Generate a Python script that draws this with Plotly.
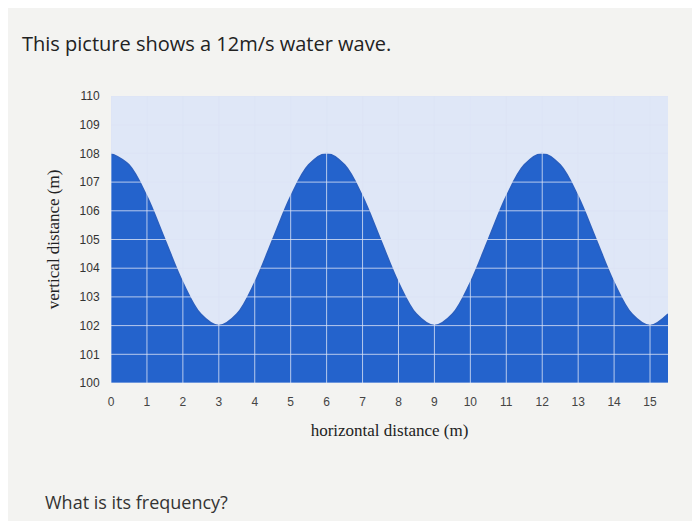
import plotly.graph_objects as go

# wave profile (0.5 m steps)
x_m = [0, 0.5, 1, 1.5, 2, 2.5, 3, 3.5, 4, 4.5, 5, 5.5, 6, 6.5, 7, 7.5, 8, 8.5,
       9, 9.5, 10, 10.5, 11, 11.5, 12, 12.5, 13, 13.5, 14, 14.5, 15, 15.5]
y_m = [108, 107.6, 106.5, 105, 103.5, 102.4, 102, 102.4, 103.5, 105, 106.5, 107.6,
       108, 107.6, 106.5, 105, 103.5, 102.4, 102, 102.4, 103.5, 105, 106.5, 107.6,
       108, 107.6, 106.5, 105, 103.5, 102.4, 102, 102.4]
x_ticks = list(range(0, 17))
y_ticks = list(range(100, 111))

fig = go.Figure()
fig.add_trace(go.Scatter(x=x_m, y=y_m, mode='lines', line=dict(color='#2a5fbf', width=1.5, shape='spline'),
                         fill='tozeroy', fillcolor='#2463cc', hoverinfo='skip'))

fig.update_xaxes(range=[0, 15.5], tickvals=x_ticks, showgrid=False,
                 title=dict(text='horizontal distance (m)', font=dict(family='Liberation Serif', size=17, color='#222')),
                 tickfont=dict(family='Liberation Sans', size=12, color='#444'), zeroline=False,
                 ticks='outside', ticklen=8, tickcolor='rgba(0,0,0,0)')
fig.update_yaxes(range=[100, 110], tickvals=y_ticks, showgrid=False,
                 title=dict(text='vertical distance (m)', font=dict(family='Liberation Serif', size=17, color='#222')),
                 tickfont=dict(family='Liberation Sans', size=12, color='#333'), zeroline=False,
                 ticks='outside', ticklen=8, tickcolor='rgba(0,0,0,0)')

# grid drawn over the fill, like the original
grid = [dict(type='line', xref='x', yref='paper', x0=v, x1=v, y0=0, y1=1, layer='above',
             line=dict(color='rgba(220,228,245,0.8)', width=1)) for v in x_ticks if v <= 15]
grid += [dict(type='line', xref='paper', yref='y', x0=0, x1=1, y0=v, y1=v, layer='above',
              line=dict(color='rgba(220,228,245,0.8)', width=1)) for v in y_ticks]

fig.update_layout(
    width=700, height=521, showlegend=False,
    paper_bgcolor='#f3f3f1', plot_bgcolor='#dfe7f7',
    margin=dict(l=103, r=40, t=88, b=146),
    shapes=grid,
    annotations=[
        dict(text='This picture shows a 12m/s water wave.', x=-91/557, y=1 + (88 - 36) / 287,
             xref='paper', yref='paper', showarrow=False, xanchor='left', yanchor='middle',
             font=dict(family='Open Sans', size=20, color='#222')),
        dict(text='What is its frequency?', x=-68/557, y=-(494 - 375) / 287,
             xref='paper', yref='paper', showarrow=False, xanchor='left', yanchor='middle',
             font=dict(family='Open Sans', size=18, color='#333')),
        dict(text='16', x=16, y=-0.045, xref='x', yref='paper', showarrow=False, yanchor='top',
             font=dict(family='Liberation Sans', size=12, color='#444')),
    ],
)

fig.write_html("out.html")
